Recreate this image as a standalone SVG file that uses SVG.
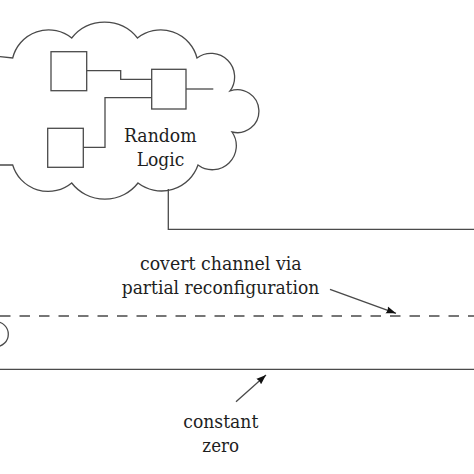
<svg xmlns="http://www.w3.org/2000/svg" width="474" height="474" viewBox="0 0 474 474">
<style>
.ln{fill:none;stroke:#4a4a4a;stroke-width:1.3}
.bx{fill:#fff;stroke:#4a4a4a;stroke-width:1.3}
.tx{font-family:"DejaVu Serif",serif;font-size:19px;fill:#1e1e1e;text-anchor:middle}
</style>
<defs>
<marker id="ah" markerUnits="userSpaceOnUse" markerWidth="11" markerHeight="8" refX="10" refY="4" orient="auto">
<path d="M0,0.3 L10,4 L0,7.7 Q2,4 0,0.3 z" fill="#111"/>
</marker>
</defs>
<rect width="474" height="474" fill="#fff"/>
<g id="cloud">
<path class="ln" d="M -5,56 L 12.7,58 A 37 37 0 0 1 71.7,38 A 42 42 0 0 1 137.5,38 A 37.5 37.5 0 0 1 197,58 A 23.6 23.6 0 0 1 230,91 A 21.5 21.5 0 1 1 232,132 A 24 24 0 0 1 198,165 A 38.6 38.6 0 0 1 138,183 A 42 42 0 0 1 71.7,183 A 37 37 0 0 1 12.7,165 L -5,165"/>
<text class="tx" x="160.3" y="141.7" textLength="72.7" lengthAdjust="spacingAndGlyphs">Random</text>
<text class="tx" x="160.5" y="165.7" textLength="47.7" lengthAdjust="spacingAndGlyphs">Logic</text>
</g>
<g id="box-a"><rect class="bx" x="51" y="51.7" width="35.7" height="39"/></g>
<g id="box-b"><rect class="bx" x="151.7" y="69.3" width="34.3" height="39.7"/></g>
<g id="box-c"><rect class="bx" x="47.7" y="128.3" width="35.6" height="39"/></g>
<g id="channel-circle"><circle class="ln" cx="-4.2" cy="334.2" r="12.5"/></g>
<g id="label-covert">
<text class="tx" x="220.8" y="270" textLength="161.7" lengthAdjust="spacingAndGlyphs">covert channel via</text>
<text class="tx" x="220.5" y="294.3" textLength="197.6" lengthAdjust="spacingAndGlyphs">partial reconfiguration</text>
</g>
<g id="label-zero">
<text class="tx" x="220.8" y="428.3" textLength="75" lengthAdjust="spacingAndGlyphs">constant</text>
<text class="tx" x="220.7" y="452.3" textLength="36.7" lengthAdjust="spacingAndGlyphs">zero</text>
</g>
<g id="connectors">
<path class="ln" d="M 86.7,70.7 H 120.7 V 79.3 H 151.7"/>
<path class="ln" d="M 83.3,147.3 H 105 V 97.7 H 151.7"/>
<path class="ln" d="M 186,89 H 213.3"/>
<path class="ln" d="M 168.3,189 V 229.3 H 474"/>
<path class="ln" d="M 0,316 H 474" stroke-dasharray="10.5 9"/>
<path class="ln" d="M 0,369.3 H 474"/>
<path class="ln" d="M 330,289.3 L 396,313.3" marker-end="url(#ah)"/>
<path class="ln" d="M 236,401.7 L 266,375" marker-end="url(#ah)"/>
</g>
</svg>
